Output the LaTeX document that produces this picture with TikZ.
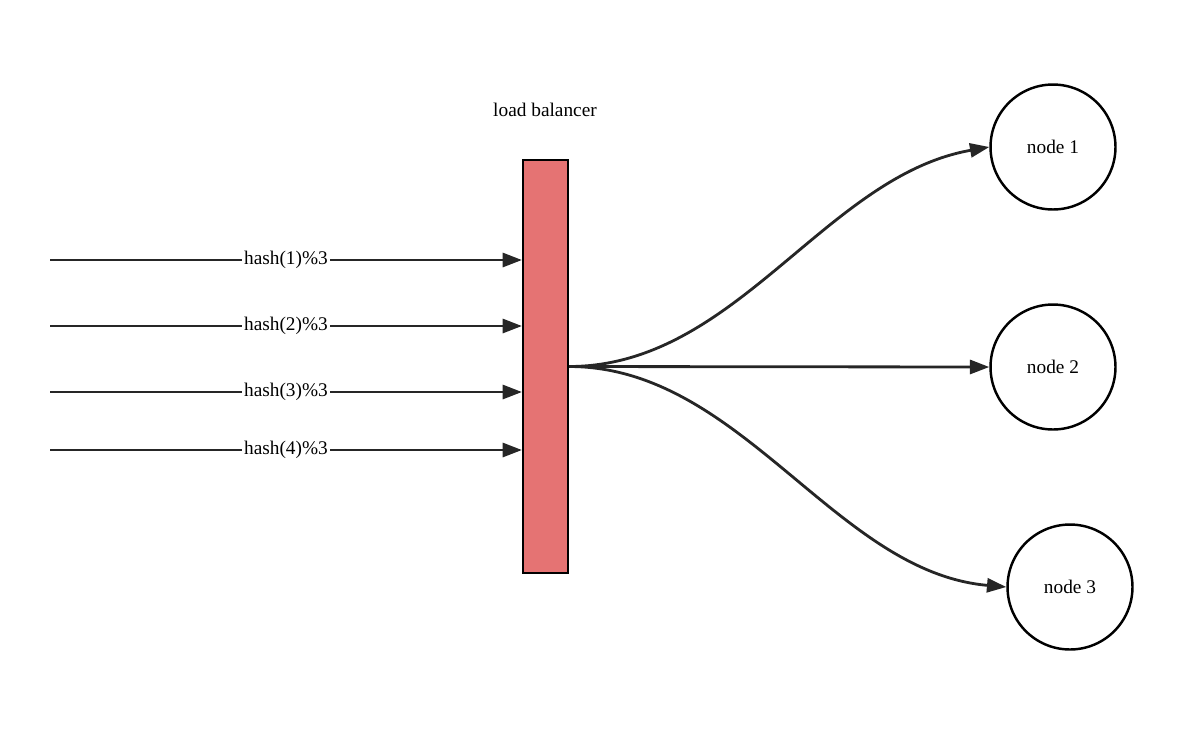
\documentclass[tikz,border=0pt]{standalone}
\usepackage{fontspec}
\setmainfont{Liberation Serif}
\usepackage{tikz}
\usetikzlibrary{positioning,arrows.meta}
\definecolor{lbred}{HTML}{E57373}
\begin{document}
\begin{tikzpicture}[x=0.02cm,y=-0.02cm,line width=1.6pt,
  every node/.style={font=\fontsize{11}{13}\selectfont},
  srv/.style={circle,draw,line width=1.4pt,minimum size=2.5cm,inner sep=0pt},
  arr/.style={-{Triangle[length=11pt,width=8pt]},draw=black!85}]
		\useasboundingbox (0,0) rectangle (1200,728);

		%balancer
		\node[draw,line width=1.2pt,fill=lbred,minimum width=0.9cm,minimum height=8.26cm,inner sep=0pt] (lb) at (545.5,366.5) {};
		\node (lbl) at (545,110) {load balancer};

		%servers
		\node[srv] (n1) at (1053,147) {node 1};
		\node[srv] (n2) at (1053,367) {node 2};
		\node[srv] (n3) at (1070,587) {node 3};

		%requests
		\coordinate (s1) at (50,260);
		\coordinate (s2) at (50,326);
		\coordinate (s3) at (50,392);
		\coordinate (s4) at (50,450);
		\coordinate (e1) at (lb.west |- s1);
		\coordinate (e2) at (lb.west |- s2);
		\coordinate (e3) at (lb.west |- s3);
		\coordinate (e4) at (lb.west |- s4);
		\draw[arr] (s1) -- node[fill=white,inner sep=1pt,pos=0.5] {hash(1)\%3} (e1);
		\draw[arr] (s2) -- node[fill=white,inner sep=1pt,pos=0.5] {hash(2)\%3} (e2);
		\draw[arr] (s3) -- node[fill=white,inner sep=1pt,pos=0.5] {hash(3)\%3} (e3);
		\draw[arr] (s4) -- node[fill=white,inner sep=1pt,pos=0.5] {hash(4)\%3} (e4);

		%edges
		\coordinate (o) at (lb.east);
		\draw[arr] (o) to[out=0,in=190,looseness=0.9] (n1.west);
		\draw[arr] (o) -- (n2.west);
		\draw[arr] (o) to[out=0,in=175,looseness=0.9] (n3.west);

\end{tikzpicture}
\end{document}
